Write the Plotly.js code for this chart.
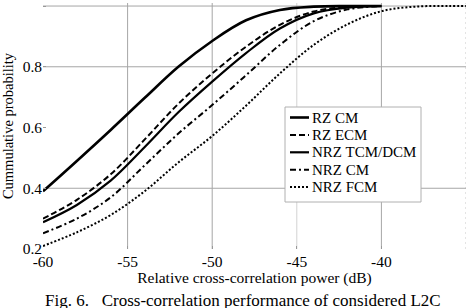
<!DOCTYPE html>
<html>
<head>
<meta charset="utf-8">
<script src="https://cdn.plot.ly/plotly-3.0.1.min.js"></script>
<style>
  html, body { margin: 0; padding: 0; background: #fff; }
  #chart { width: 474px; height: 308px; }
</style>
</head>
<body>
<div id="chart"></div>
<script>
// Relative cross-correlation power (dB) sample points
const powerDb = [-60, -58, -56, -54, -52, -50, -48, -46, -44, -42, -40];
const powerDbFcm = [-60, -58, -56, -54, -52, -50, -48, -46, -44, -42, -40, -38, -36, -35];

// Cumulative probability per code
const rzCm    = [0.390, 0.490, 0.592, 0.697, 0.800, 0.885, 0.953, 0.987, 0.998, 1.000, 1.000];
const rzEcm   = [0.300, 0.362, 0.446, 0.560, 0.678, 0.778, 0.866, 0.938, 0.982, 0.997, 1.000];
const nrzTcm  = [0.288, 0.345, 0.425, 0.535, 0.650, 0.751, 0.845, 0.926, 0.976, 0.995, 1.000];
const nrzCm   = [0.252, 0.300, 0.370, 0.475, 0.580, 0.674, 0.772, 0.872, 0.950, 0.989, 1.000];
const nrzFcm  = [0.210, 0.255, 0.312, 0.390, 0.485, 0.572, 0.672, 0.778, 0.872, 0.940, 0.983, 0.998, 1.000, 1.000];

const seriesNames = ['RZ CM', 'RZ ECM', 'NRZ TCM/DCM', 'NRZ CM', 'NRZ FCM'];

// Axis ticks
const xTickVals = [-60, -55, -50, -45, -40, -35];
const xTickText = ['-60', '-55', '-50', '-45', '-40', '-35'];
const yTickVals = [0.2, 0.4, 0.6, 0.8, 1];
const yTickText = ['0.2', '0.4', '0.6', '0.8', '1'];

const FONT = 'Liberation Serif';

const styles = [
  { width: 2.6, dash: 'solid' },
  { width: 2.0, dash: '6px,3px' },
  { width: 2.2, dash: 'solid' },
  { width: 2.0, dash: '6px,3px,2px,3px' },
  { width: 2.0, dash: '2px,2px' }
];

const xs = [powerDb, powerDb, powerDb, powerDb, powerDbFcm];
const ys = [rzCm, rzEcm, nrzTcm, nrzCm, nrzFcm];

const traces = seriesNames.map((name, i) => ({
  type: 'scatter',
  mode: 'lines',
  name: name,
  x: xs[i],
  y: ys[i],
  line: { color: '#000', width: styles[i].width, dash: styles[i].dash, shape: 'spline', smoothing: 1 },
  showlegend: false,
  hoverinfo: 'skip'
}));

// Plot frame in pixels
const M = { l: 43, r: 8, t: 3, b: 59 };
const W = 474 - M.l - M.r;
const H = 308 - M.t - M.b;
const px = v => (v - M.l) / W;
const py = v => (308 - M.b - v) / H;

const shapes = [];
// Grid lines
[-55, -50, -40].forEach(v => shapes.push({
  type: 'line', xref: 'x', yref: 'paper', x0: v, x1: v, y0: 0, y1: 1,
  line: { color: '#a6a6a6', width: 1 }, layer: 'below'
}));
shapes.push({ type: 'line', xref: 'x', yref: 'paper', x0: -45, x1: -45, y0: 0, y1: 1,
  line: { color: '#d2d2d2', width: 1 }, layer: 'below' });
shapes.push({ type: 'line', xref: 'x', yref: 'paper', x0: -35, x1: -35, y0: 0, y1: 1,
  line: { color: '#c8c8c8', width: 1, dash: '2px,3px' }, layer: 'below' });
[0.4, 0.8, 1].forEach(v => shapes.push({
  type: 'line', xref: 'paper', yref: 'y', x0: 0, x1: 1, y0: v, y1: v,
  line: { color: '#a6a6a6', width: 1 }, layer: 'below'
}));

// Legend box
const LG = { left: 285, right: 421, top: 107, bottom: 202, sx0: 290, sx1: 309, tx: 310, row0: 117.5, step: 17.4 };
shapes.push({
  type: 'rect', xref: 'paper', yref: 'paper',
  x0: px(LG.left), x1: px(LG.right), y0: py(LG.bottom), y1: py(LG.top),
  fillcolor: '#fff', line: { color: '#b0b0b0', width: 1 }, layer: 'below'
});
const annotations = [];
seriesNames.forEach((name, i) => {
  const yy = LG.row0 + i * LG.step;
  shapes.push({
    type: 'line', xref: 'paper', yref: 'paper',
    x0: px(LG.sx0), x1: px(LG.sx1), y0: py(yy), y1: py(yy),
    line: { color: '#000', width: styles[i].width, dash: styles[i].dash }
  });
  annotations.push({
    xref: 'paper', yref: 'paper', x: px(LG.tx), y: py(yy),
    xanchor: 'left', yanchor: 'middle', showarrow: false,
    text: name, font: { family: FONT, size: 15, color: '#000' }
  });
});

// Figure caption
annotations.push({
  xref: 'paper', yref: 'paper', x: px(43), y: py(289),
  xanchor: 'left', yanchor: 'top', showarrow: false,
  text: 'Fig. 6.\u00a0\u00a0\u00a0Cross-correlation performance of considered L2C',
  font: { family: FONT, size: 17, color: '#000' }
});

const layout = {
  width: 474,
  height: 308,
  margin: M,
  paper_bgcolor: '#fff',
  plot_bgcolor: '#fff',
  font: { family: FONT, size: 15, color: '#000' },
  xaxis: {
    range: [-60, -35],
    tickvals: xTickVals, ticktext: xTickText,
    showgrid: false, zeroline: false, showline: false,
    ticks: 'inside', ticklen: 3, tickcolor: '#999',
    ticklabelstandoff: 1,
    tickfont: { family: FONT, size: 15.5, color: '#000' },
    title: { text: 'Relative cross-correlation power (dB)', font: { family: FONT, size: 15.5, color: '#000' }, standoff: 1 }
  },
  yaxis: {
    range: [0.2, 1.01],
    tickvals: yTickVals, ticktext: yTickText,
    showgrid: false, zeroline: false, showline: false,
    ticks: 'inside', ticklen: 3, tickcolor: '#999',
    tickfont: { family: FONT, size: 15.5, color: '#000' },
    title: { text: 'Cummulative probability', font: { family: FONT, size: 14.5, color: '#000' }, standoff: 5 }
  },
  shapes: shapes,
  annotations: annotations,
  showlegend: false
};

Plotly.newPlot('chart', traces, layout, { staticPlot: true, displayModeBar: false });
</script>
</body>
</html>
